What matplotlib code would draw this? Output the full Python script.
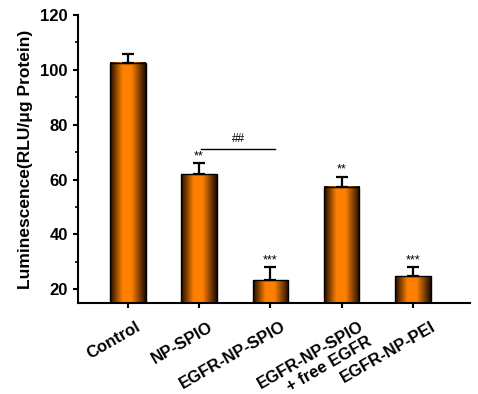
import numpy as np
import matplotlib
matplotlib.use("Agg")
import matplotlib.pyplot as plt
import matplotlib.transforms as mtransforms
from matplotlib.colors import LinearSegmentedColormap

plt.rcParams['font.family'] = ['Liberation Sans', 'DejaVu Sans']

# data
groups = ['Control', 'NP-SPIO', 'EGFR-NP-SPIO', 'EGFR-NP-SPIO\n+ free EGFR', 'EGFR-NP-PEI']
values = [102.5, 62.0, 23.3, 57.3, 24.8]
errors = [3.2, 4.0, 4.8, 3.7, 3.2]
stars = ['', '**', '***', '**', '***']

# horizontal nudge of each category label (pixels), as placed in the original
label_dx = [8, 9, 10, 17, 18]

YMIN, YMAX = 15, 120

fig = plt.figure(figsize=(4.78, 3.94), dpi=100)
ax = fig.add_axes([0.163, 0.231, 0.82, 0.731])

x = np.arange(len(groups))
width = 0.5

bars = ax.bar(x, values, width, color='none', edgecolor='black', linewidth=1.0, zorder=3)

# horizontal shading inside each bar: dark edges, bright orange centre
shade = LinearSegmentedColormap.from_list(
    'bar_shade', [(0, '#1a0a00'), (0.35, '#ff8000'), (0.6, '#ff8000'), (1, '#1a0a00')])
grad = np.linspace(0, 1, 256).reshape(1, -1)
for b in bars:
    x0 = b.get_x()
    ax.imshow(grad, extent=[x0, x0 + b.get_width(), YMIN, b.get_height()],
              aspect='auto', cmap=shade, zorder=2, interpolation='bicubic')

ax.errorbar(x, values, yerr=[np.zeros(len(errors)), errors], fmt='none',
            ecolor='black', elinewidth=1.6, capsize=4, capthick=1.6, zorder=4)

for xi, v, e, s in zip(x, values, errors, stars):
    if s:
        ax.text(xi, v + e + 0.4, s, ha='center', va='bottom', fontsize=9)

# significance bracket between NP-SPIO and EGFR-NP-SPIO
ax.plot([1.03, 2.06], [71.1, 71.1], color='black', linewidth=1.0)
ax.text(1.55, 72.5, '##', ha='center', va='bottom', fontsize=8.5)

ax.set_xlim(-0.7, 4.8)
ax.set_ylim(YMIN, YMAX)
ax.set_yticks([20, 40, 60, 80, 100, 120])
ax.set_yticks([30, 50, 70, 90, 110], minor=True)
ax.set_xticks(x)
ax.set_xticklabels([])

# category labels sit to the right of their ticks in the original
base = mtransforms.blended_transform_factory(ax.transData, ax.transAxes)
for xi, name, dx in zip(x, groups, label_dx):
    shift = mtransforms.ScaledTranslation(dx / 100, -0.16, fig.dpi_scale_trans)
    ax.text(xi, 0, name, transform=base + shift, rotation=30, ha='right', va='top',
            rotation_mode='anchor', fontsize=12, fontweight='bold',
            multialignment='right', clip_on=False)

for lab in ax.get_yticklabels():
    lab.set_fontweight('bold')
    lab.set_fontsize(12)

ax.spines['top'].set_visible(False)
ax.spines['right'].set_visible(False)
ax.spines['left'].set_linewidth(1.5)
ax.spines['bottom'].set_linewidth(1.5)
ax.tick_params(axis='both', which='major', direction='out', length=3.8, width=1.5)
ax.tick_params(axis='y', which='minor', direction='out', length=2.5, width=1.2)

ax.set_ylabel('Luminescence(RLU/\u03bcg Protein)', fontsize=12.5, fontweight='bold', labelpad=5)

fig.savefig('out.png', dpi=100)
